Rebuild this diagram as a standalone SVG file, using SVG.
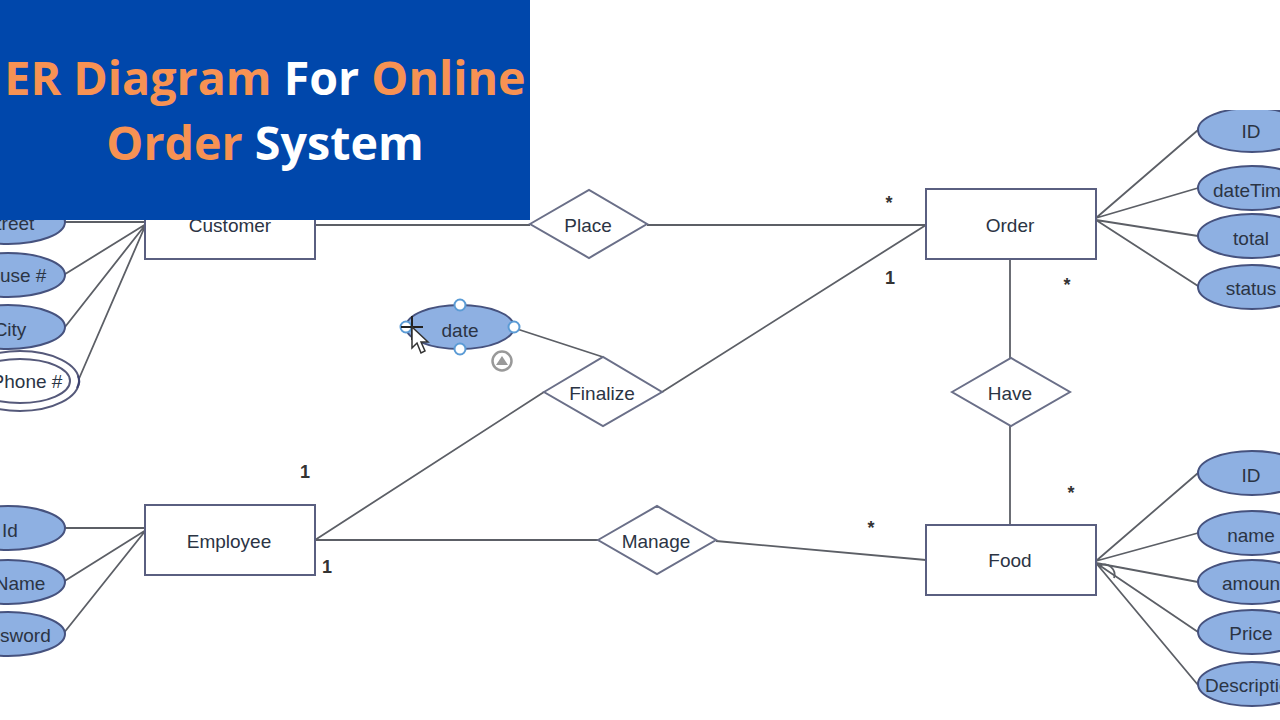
<svg xmlns="http://www.w3.org/2000/svg" width="1280" height="720" viewBox="0 0 1280 720">
<style>
.lbl{font-family:"Liberation Sans",Arial,sans-serif;font-size:19px;fill:#2b3444;text-anchor:middle;dominant-baseline:central}
.box{fill:#fff;stroke:#5a5f80;stroke-width:2}
.dia{fill:#fff;stroke:#6a6f88;stroke-width:2}
.attr{fill:#8eb0e2;stroke:#46527e;stroke-width:2}
.dbl{fill:#fff;stroke:#55597a;stroke-width:2}
.conn{fill:none;stroke:#5c5f66;stroke-width:1.8}
.mult{font-family:"Liberation Sans",Arial,sans-serif;font-size:18px;font-weight:700;fill:#333;text-anchor:middle;dominant-baseline:central}
.hnd{fill:#fff;stroke:#5b9bd5;stroke-width:2}
.ttl{font-family:"Open Sans",sans-serif;font-size:46.6px;font-weight:700;text-anchor:middle}
.o{fill:#f79253}.w{fill:#fff}
</style>
<rect width="1280" height="720" fill="#fff"/>
<g id="connectors">
<path class="conn" d="M315 225H530M647 225H926M1010 259V358M1010 426V525M315 540H598M716 541L926 560M315 540L544 392M662 392L926 225M514 328L603 357"/>
<path class="conn" d="M146 222L60 222M146 224L62 276M146 224L65 327M146 224L78 381M65 528H146M146 530L63 582M146 530L63 634"/>
<path class="conn" d="M1096 218L1198 130M1096 218L1198 188M1096 220L1198 236M1096 220L1198 286M1096 561L1198 473M1096 561L1198 533M1096 563L1198 582M1096 563L1198 632M1096 563L1198 685"/>
<path class="conn" d="M1100 566C1108 561 1117 570 1114 578" stroke-width="1.3"/>
</g>
<g id="customer"><rect class="box" x="145" y="190" width="170" height="69"/><text class="lbl" x="230" y="225">Customer</text></g>
<g id="order"><rect class="box" x="926" y="189" width="170" height="70"/><text class="lbl" x="1010" y="225">Order</text></g>
<g id="employee"><rect class="box" x="145" y="505" width="170" height="70"/><text class="lbl" x="229" y="541">Employee</text></g>
<g id="food"><rect class="box" x="926" y="525" width="170" height="70"/><text class="lbl" x="1010" y="560">Food</text></g>
<g id="place"><polygon class="dia" points="530,224 589,190 647,224 589,258"/><text class="lbl" x="588" y="225">Place</text></g>
<g id="finalize"><polygon class="dia" points="544,392 603,357 662,392 603,426"/><text class="lbl" x="602" y="393">Finalize</text></g>
<g id="have"><polygon class="dia" points="952,392 1011,358 1070,392 1011,426"/><text class="lbl" x="1010" y="393">Have</text></g>
<g id="manage"><polygon class="dia" points="598,540 657,506 716,540 657,574"/><text class="lbl" x="656" y="541">Manage</text></g>
<g id="attr-street"><ellipse class="attr" cx="8" cy="222" rx="57" ry="22"/><text class="lbl" x="9" y="223">Street</text></g>
<g id="attr-house"><ellipse class="attr" cx="8" cy="275" rx="57" ry="22"/><text class="lbl" x="11" y="275">House #</text></g>
<g id="attr-city"><ellipse class="attr" cx="8" cy="327" rx="57" ry="22"/><text class="lbl" x="10" y="329">City</text></g>
<g id="attr-phone"><ellipse class="dbl" cx="20" cy="381" rx="59" ry="30"/><ellipse class="dbl" cx="20" cy="381" rx="50" ry="22"/><text class="lbl" x="27" y="381">Phone #</text></g>
<path d="M78 376Q81 381 77 388" fill="none" stroke="#3d4270" stroke-width="2"/>
<g id="attr-id"><ellipse class="attr" cx="8" cy="528" rx="57" ry="22"/><text class="lbl" x="10" y="530">Id</text></g>
<g id="attr-name"><ellipse class="attr" cx="8" cy="582" rx="57" ry="22"/><text class="lbl" x="20" y="583">Name</text></g>
<g id="attr-password"><ellipse class="attr" cx="8" cy="634" rx="57" ry="22"/><text class="lbl" x="9" y="635">Password</text></g>
<g id="attr-date"><ellipse class="attr" cx="460" cy="327" rx="54" ry="22"/><text class="lbl" x="460" y="330">date</text>
<circle class="hnd" cx="460" cy="305" r="5.5"/><circle class="hnd" cx="514" cy="327" r="5.5"/><circle class="hnd" cx="460" cy="349" r="5.5"/><circle class="hnd" cx="406" cy="327" r="5.5"/></g>
<g id="cursor"><path d="M412 316V340M401 327H423" stroke="#222" stroke-width="2" fill="none"/><path d="M412 327V348L417 343L421 353L425 351L421 342H428Z" fill="#fff" stroke="#333" stroke-width="1.5"/><circle cx="502" cy="361" r="9.5" fill="#fff" stroke="#999" stroke-width="2.5"/><path d="M502 356L508 365H496Z" fill="#999"/></g>
<g id="attr-o-id"><ellipse class="attr" cx="1252" cy="130" rx="54" ry="22"/><text class="lbl" x="1251" y="131">ID</text></g>
<g id="attr-o-datetime"><ellipse class="attr" cx="1252" cy="188" rx="54" ry="22"/><text class="lbl" x="1213" y="190" style="text-anchor:start">dateTime</text></g>
<g id="attr-o-total"><ellipse class="attr" cx="1252" cy="236" rx="54" ry="22"/><text class="lbl" x="1251" y="238">total</text></g>
<g id="attr-o-status"><ellipse class="attr" cx="1252" cy="287" rx="54" ry="22"/><text class="lbl" x="1251" y="288">status</text></g>
<g id="attr-f-id"><ellipse class="attr" cx="1252" cy="473" rx="54" ry="22"/><text class="lbl" x="1251" y="475">ID</text></g>
<g id="attr-f-name"><ellipse class="attr" cx="1252" cy="533" rx="54" ry="22"/><text class="lbl" x="1251" y="535">name</text></g>
<g id="attr-f-amount"><ellipse class="attr" cx="1252" cy="582" rx="54" ry="22"/><text class="lbl" x="1222" y="583" style="text-anchor:start">amount</text></g>
<g id="attr-f-price"><ellipse class="attr" cx="1252" cy="632" rx="54" ry="22"/><text class="lbl" x="1251" y="633">Price</text></g>
<g id="attr-f-desc"><ellipse class="attr" cx="1252" cy="684" rx="54" ry="22"/><text class="lbl" x="1205" y="685" style="text-anchor:start">Description</text></g>
<g id="multiplicities">
<text class="mult" x="889" y="203">*</text><text class="mult" x="890" y="278">1</text><text class="mult" x="1067" y="285">*</text><text class="mult" x="1071" y="493">*</text><text class="mult" x="871" y="528">*</text><text class="mult" x="305" y="472">1</text><text class="mult" x="327" y="567">1</text>
</g>
<rect x="1096" y="0" width="184" height="110" fill="#fff"/>
<g id="title"><rect width="530" height="220" fill="#0047ab"/>
<text class="ttl" x="265" y="95"><tspan class="o">ER Diagram</tspan><tspan class="w"> For </tspan><tspan class="o">Online</tspan></text>
<text class="ttl" x="265" y="160"><tspan class="o">Order</tspan><tspan class="w"> System</tspan></text></g>
</svg>
